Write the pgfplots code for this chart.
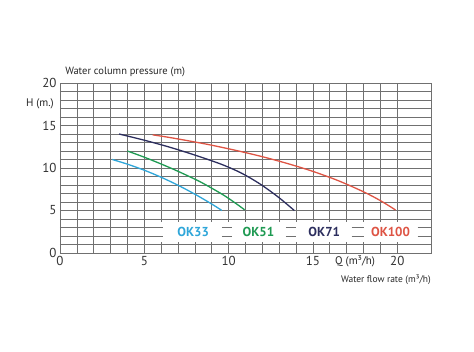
\documentclass[border=0pt]{standalone}
\usepackage{pgfplots}
\pgfplotsset{compat=1.18}
\usepackage{fontspec}
\setmainfont{PT Sans}
\definecolor{cA}{HTML}{2EA6D9}
\definecolor{cB}{HTML}{1E9A52}
\definecolor{cC}{HTML}{2C2E5E}
\definecolor{cD}{HTML}{DE5444}
\definecolor{gridc}{HTML}{707070}
\begin{document}
\begin{tikzpicture}[x=1pt,y=1pt]
\path[use as bounding box] (-60,-98) rectangle (414,253);
\begin{axis}[
  at={(0,0)}, anchor=south west,
  scale only axis, width=371pt, height=170pt,
  xmin=0, xmax=22, ymin=0, ymax=20,
  xtick={0,5,10,15,20}, ytick={0,5,10,15,20},
  minor x tick num=4, minor y tick num=4,
  grid=both,
  major grid style={draw=gridc, line width=0.7pt},
  minor grid style={draw=gridc, line width=0.7pt},
  major tick length=0pt, minor tick length=0pt,
  axis line style={draw=gridc, line width=0.7pt},
  tick label style={font=\fontsize{13}{13}\selectfont, text=black!80},
  /pgf/number format/assume math mode=true,
  clip=false,
]
% white band behind labels
\fill[white] (axis cs:5.85,1.3) rectangle (axis cs:21.93,3.7);
\foreach \a/\b in {5.85/6.1, 9.6/10.2, 13.4/14.0, 17.3/18.0, 21.2/21.93}{
  \edef\tmp{\noexpand\draw[gridc, line width=0.7pt] (axis cs:\a,2) -- (axis cs:\b,2) (axis cs:\a,3) -- (axis cs:\b,3);}\tmp
}
\addplot[cA, line width=1.3pt, smooth] coordinates {
 (3.1,11.0) (4,10.45) (5,9.74) (6,8.91) (7,7.97) (8,6.92) (9,5.76) (9.6,5.0)};
\addplot[cB, line width=1.3pt, smooth] coordinates {
 (4.0,12.0) (5,11.27) (6,10.47) (7,9.61) (8.3,8.39) (9.5,7.05) (10,6.42) (10.5,5.73) (10.95,5.08)};
\addplot[cC, line width=1.3pt, smooth] coordinates {
 (3.5,14.0) (5,13.27) (6.5,12.45) (8,11.52) (9.5,10.49) (10.5,9.65) (11.2,8.92) (12,7.94) (13,6.49) (13.9,4.99)};
\addplot[cD, line width=1.3pt, smooth] coordinates {
 (5.5,13.9) (6.5,13.59) (8,13.06) (9,12.68) (10.5,12.04) (12,11.33) (13.5,10.52) (15,9.6) (16.5,8.51) (18,7.2) (19,6.16) (19.9,5.06)};
\node[font=\bfseries\fontsize{13}{13}\selectfont, text=cA] at (axis cs:7.9,2.45) {OK33};
\node[font=\bfseries\fontsize{13}{13}\selectfont, text=cB] at (axis cs:11.77,2.45) {OK51};
\node[font=\bfseries\fontsize{13}{13}\selectfont, text=cC] at (axis cs:15.67,2.45) {OK71};
\node[font=\bfseries\fontsize{13}{13}\selectfont, text=cD] at (axis cs:19.6,2.45) {OK100};
\node[anchor=west, font=\fontsize{10.5}{10.5}\selectfont, text=black!85, inner sep=0pt] at (axis cs:0.3,21.33) {Water column pressure (m)};
\node[font=\fontsize{11}{11}\selectfont, text=black!85, inner sep=0pt] at (axis cs:-1.19,17.6) {H (m.)};
\node[font=\fontsize{11}{11}\selectfont, text=black!85, inner sep=0pt] at (axis cs:17.5,-1.02) {Q (m³/h)};
\node[anchor=east, font=\fontsize{9.5}{9.5}\selectfont, text=black!85, inner sep=0pt] at (axis cs:22,-3.1) {Water flow rate (m³/h)};
\end{axis}
\end{tikzpicture}
\end{document}
